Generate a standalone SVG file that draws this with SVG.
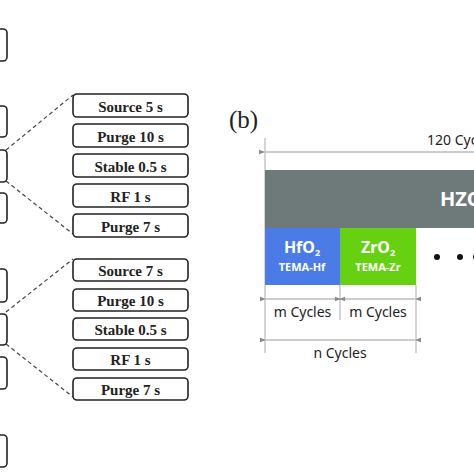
<svg xmlns="http://www.w3.org/2000/svg" width="474" height="474" viewBox="0 0 474 474">
<defs>
<style>
.box{fill:#fff;stroke:#222;stroke-width:1.6}
.lt{font-family:"Liberation Serif",serif;font-weight:bold;font-size:15px;fill:#222;text-anchor:middle}
.dash{fill:none;stroke:#444;stroke-width:1.2;stroke-dasharray:4 3}
.guide{stroke:#aaa;stroke-width:1;fill:none}
.dim{stroke:#999;stroke-width:1;fill:none;marker-start:url(#ah);marker-end:url(#ah)}
.st{font-family:"Noto Sans",sans-serif;font-size:14px;fill:#222}
.wt{font-family:"Noto Sans",sans-serif;font-weight:bold;fill:#fff;text-anchor:middle}
</style>
<marker id="ah" viewBox="0 0 6 6" refX="0" refY="3" markerWidth="6" markerHeight="6" orient="auto-start-reverse" markerUnits="userSpaceOnUse">
<path d="M6,0.8 L0,3 L6,5.2 z" fill="#888"/>
</marker>
</defs>
<rect width="474" height="474" fill="#fff"/>

<g id="left-stack">
<rect class="box" x="-20" y="29" width="27" height="32" rx="4"/>
<rect class="box" x="-20" y="106" width="27" height="31" rx="4"/>
<rect class="box" x="-20" y="150" width="27" height="32" rx="4"/>
<rect class="box" x="-20" y="193" width="27" height="30" rx="4"/>
<rect class="box" x="-20" y="269" width="27" height="33" rx="4"/>
<rect class="box" x="-20" y="314" width="27" height="31" rx="4"/>
<rect class="box" x="-20" y="357" width="27" height="32" rx="4"/>
<rect class="box" x="-20" y="435" width="27" height="32" rx="4"/>
</g>

<g id="connectors">
<path class="dash" d="M6,150 L73,95"/>
<path class="dash" d="M6,181 L73,234"/>
<path class="dash" d="M6,312 L73,259"/>
<path class="dash" d="M6,344 L73,397"/>
</g>

<g id="group1">
<g id="g1-source"><rect class="box" x="73" y="94" width="115" height="23" rx="4"/><text class="lt" x="130.5" y="112">Source 5 s</text></g>
<g id="g1-purge10"><rect class="box" x="73" y="124" width="115" height="23" rx="4"/><text class="lt" x="130.5" y="142">Purge 10 s</text></g>
<g id="g1-stable"><rect class="box" x="73" y="154" width="115" height="23" rx="4"/><text class="lt" x="130.5" y="172">Stable 0.5 s</text></g>
<g id="g1-rf"><rect class="box" x="73" y="184" width="115" height="23" rx="4"/><text class="lt" x="130.5" y="202">RF 1 s</text></g>
<g id="g1-purge7"><rect class="box" x="73" y="214" width="115" height="23" rx="4"/><text class="lt" x="130.5" y="232">Purge 7 s</text></g>
</g>

<g id="group2">
<g id="g2-source"><rect class="box" x="73" y="259" width="115" height="22" rx="4"/><text class="lt" x="130.5" y="276">Source 7 s</text></g>
<g id="g2-purge10"><rect class="box" x="73" y="289" width="115" height="22" rx="4"/><text class="lt" x="130.5" y="306">Purge 10 s</text></g>
<g id="g2-stable"><rect class="box" x="73" y="318" width="115" height="22" rx="4"/><text class="lt" x="130.5" y="335">Stable 0.5 s</text></g>
<g id="g2-rf"><rect class="box" x="73" y="348" width="115" height="22" rx="4"/><text class="lt" x="130.5" y="365">RF 1 s</text></g>
<g id="g2-purge7"><rect class="box" x="73" y="378" width="115" height="22" rx="4"/><text class="lt" x="130.5" y="395">Purge 7 s</text></g>
</g>

<g id="panel-b">
<text x="229" y="128" font-family="Liberation Serif,serif" font-size="25" fill="#222">(b)</text>
<path class="guide" d="M265,138 V353 M340,285 V320 M416,285 V353"/>
<path class="dim" d="M265,152 H480" style="marker-end:none"/>
<text class="st" x="427" y="145">120 Cycles</text>
<g id="hzo"><rect x="265" y="170" width="215" height="58" fill="#6e7a79"/><text class="wt" x="440" y="206" font-size="20" style="text-anchor:start">HZO</text></g>
<g id="hfo2"><rect x="265" y="228" width="75" height="57" fill="#4a7be6"/>
<text class="wt" x="302" y="253" font-size="16">HfO<tspan font-size="9" dy="2.5">2</tspan></text>
<text class="wt" x="302" y="271" font-size="11">TEMA-Hf</text></g>
<g id="zro2"><rect x="340" y="228" width="76" height="57" fill="#66d111"/>
<text class="wt" x="378" y="253" font-size="16">ZrO<tspan font-size="9" dy="2.5">2</tspan></text>
<text class="wt" x="378" y="271" font-size="11">TEMA-Zr</text></g>
<g id="dots" fill="#111"><circle cx="437" cy="257" r="3"/><circle cx="460" cy="257" r="3"/><circle cx="476" cy="257" r="3"/></g>
<path class="dim" d="M266,299 H339"/>
<path class="dim" d="M341,299 H415"/>
<path class="dim" d="M266,340 H415"/>
<text class="st" x="302.5" y="317" text-anchor="middle">m Cycles</text>
<text class="st" x="378" y="317" text-anchor="middle">m Cycles</text>
<text class="st" x="340" y="358" text-anchor="middle">n Cycles</text>
</g>
</svg>
